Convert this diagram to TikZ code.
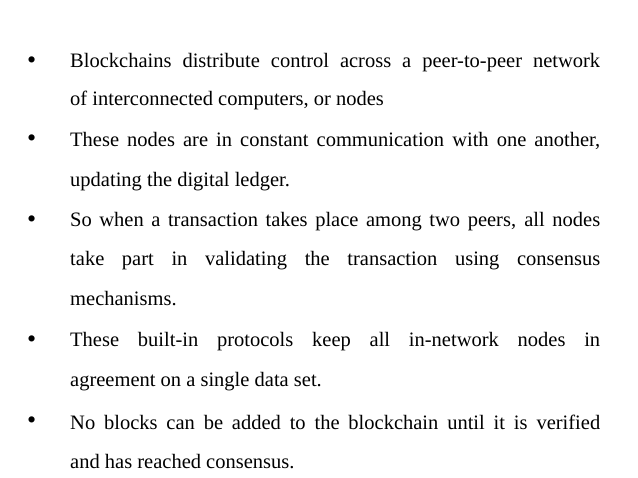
\documentclass[tikz,border=0pt]{standalone}
\usepackage{fontspec}
\setmainfont{Liberation Serif}
\newcommand{\jline}[1]{\parbox{530pt}{\parfillskip=0pt\relax #1}}
\newcommand{\lline}[1]{\parbox{530pt}{#1}}
\begin{document}
\begin{tikzpicture}[x=1pt,y=-1pt,
  txt/.style={anchor=base west,inner sep=0pt,font=\fontsize{20.5}{24}\selectfont},
  bul/.style={anchor=base west,inner sep=0pt,font=\fontsize{26}{28}\selectfont}]
\useasboundingbox[fill=white] (0,0) rectangle (638,478);
\node[bul] (b1) at (27,69) {•};
\node[txt] (l1) at (70,68) {\jline{Blockchains distribute control across a peer-to-peer network}};
\node[txt] (l2) at (70,106) {\lline{of interconnected computers, or nodes}};
\node[bul] (b2) at (27,147) {•};
\node[txt] (l3) at (70,146) {\jline{These nodes are in constant communication with one another,}};
\node[txt] (l4) at (70,187) {\lline{updating the digital ledger.}};
\node[bul] (b3) at (27,228) {•};
\node[txt] (l5) at (70,227) {\jline{So when a transaction takes place among two peers, all nodes}};
\node[txt] (l6) at (70,266) {\jline{take part in validating the transaction using consensus}};
\node[txt] (l7) at (70,304) {\lline{mechanisms.}};
\node[bul] (b4) at (27,348) {•};
\node[txt] (l8) at (70,347) {\jline{These built-in protocols keep all in-network nodes in}};
\node[txt] (l9) at (70,387) {\lline{agreement on a single data set.}};
\node[bul] (b5) at (27,429) {•};
\node[txt] (l10) at (70,428) {\jline{No blocks can be added to the blockchain until it is verified}};
\node[txt] (l11) at (70,467) {\lline{and has reached consensus.}};
\end{tikzpicture}
\end{document}
